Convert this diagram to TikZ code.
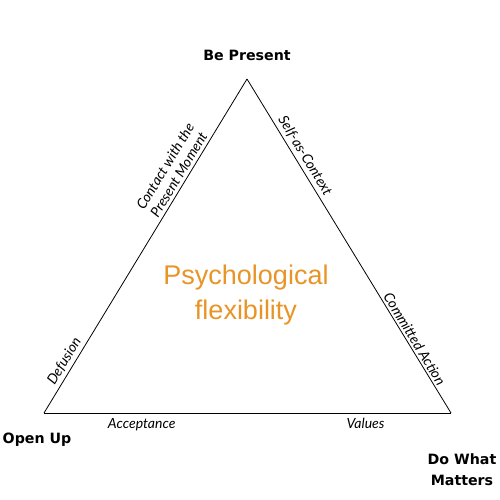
\documentclass[tikz,border=0pt]{standalone}
\usepackage{fontspec}
\setmainfont{Lato}
\setsansfont{Liberation Sans}
\newfontfamily\cornerfont{DejaVu Sans}
\usetikzlibrary{positioning}

\definecolor{flexorange}{RGB}{232,148,38}

\tikzset{
    corner/.style={font=\cornerfont\fontsize{14.2}{21}\selectfont\bfseries, align=center},
    process/.style={font=\fontsize{14}{16}\selectfont\itshape, align=center, inner sep=1pt},
    edge/.style={line width=0.8pt}
}

\begin{document}
\begin{tikzpicture}[x=1pt, y=1pt]
    \useasboundingbox (0,0) rectangle (500,500);

    % Corners of the hexaflex triangle
    \coordinate (top) at (247,421);
    \coordinate (left) at (44,87);
    \coordinate (right) at (451,87);

    % Sides
    \draw[edge] (left) -- (top)
        node[process, sloped, pos=0.14, above=2pt] {Defusion}
        node[process, sloped, pos=0.70, above=2pt] {Contact with the\\Present Moment};
    \draw[edge] (top) -- (right)
        node[process, sloped, pos=0.245, above=2pt] {Self-as-Context}
        node[process, sloped, pos=0.79, above=1pt] {Committed Action};
    \draw[edge] (left) -- (right)
        node[process, pos=0.24, below=4pt] {Acceptance}
        node[process, pos=0.79, below=4pt] {Values};

    % Corner labels
    \node[corner] (present) at (247,445) {Be Present};
    \node[corner] (openup) at (37,60) {Open Up};
    \node[corner] (matters) at (462,30) {Do What\\Matters};

    % Centre
    \node[font=\sffamily\fontsize{27}{35}\selectfont, text=flexorange, align=center]
        (flex) at (246,205) {Psychological\\flexibility};
\end{tikzpicture}
\end{document}
